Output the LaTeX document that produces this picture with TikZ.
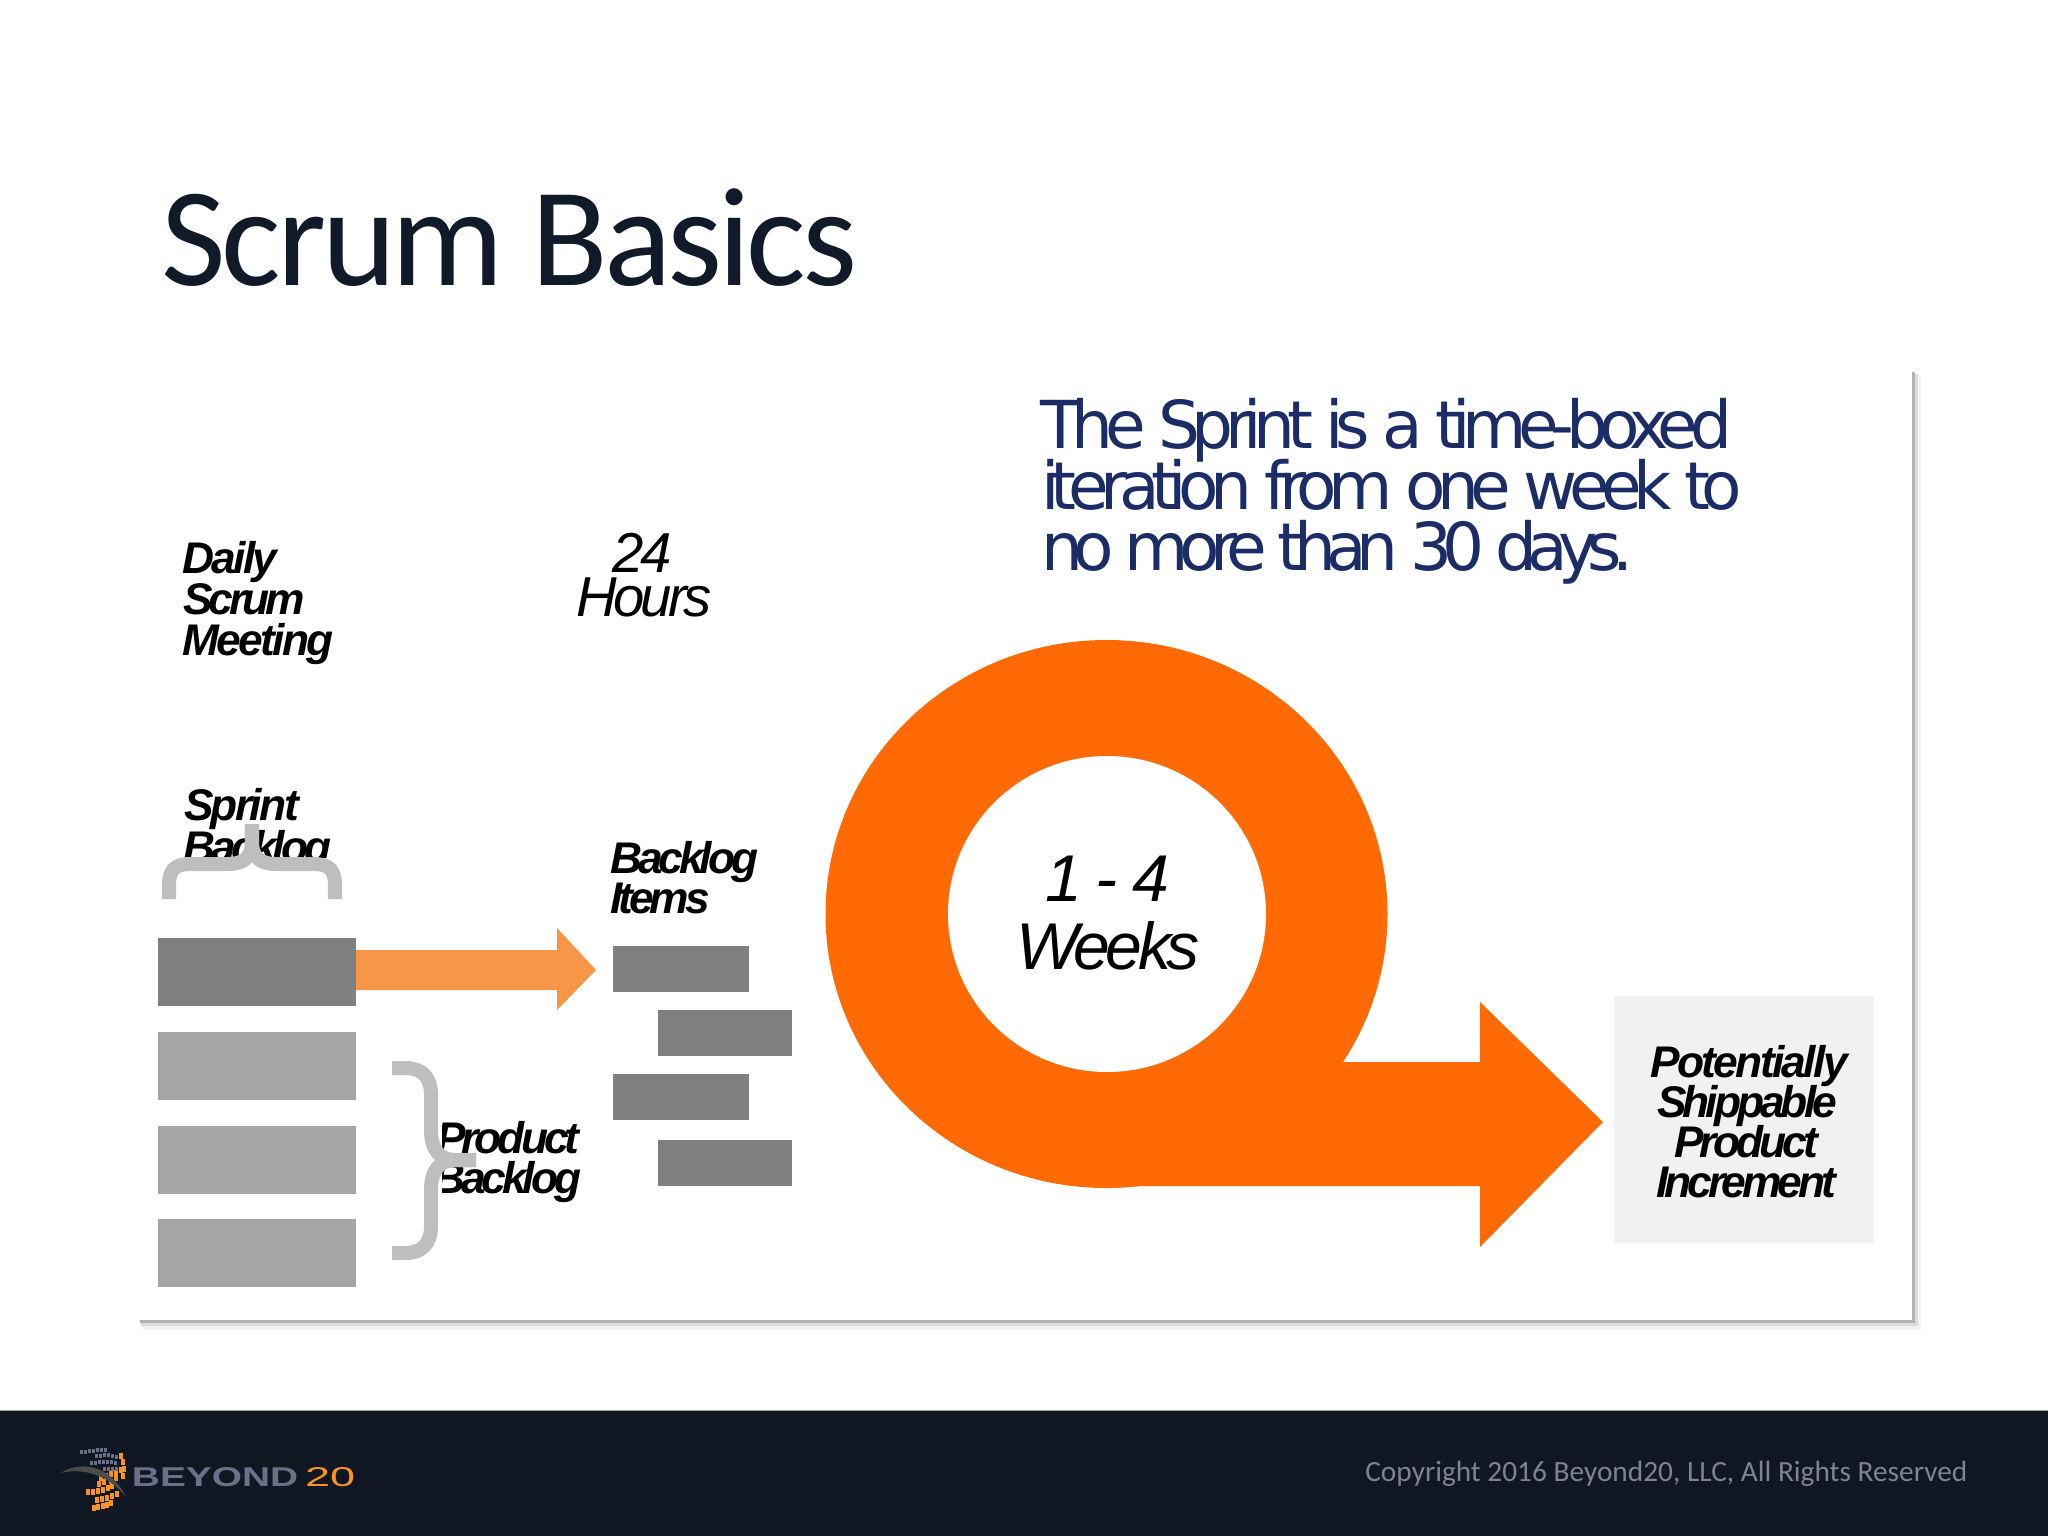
\documentclass[tikz,border=0pt]{standalone}
\usepackage{fontspec}
\usepackage{graphicx}
\setmainfont{Liberation Sans}
\newfontfamily\titlefont[LetterSpace=-2.9]{Carlito}
\newfontfamily\copyfont{Carlito}
\newfontfamily\blueface[LetterSpace=-12.9]{DejaVu Sans}
\newfontfamily\bluetight[LetterSpace=-14.8]{DejaVu Sans}
\newfontfamily\boldface[LetterSpace=-6,BoldFont={Liberation Sans Bold},ItalicFont={Liberation Sans Italic},BoldItalicFont={Liberation Sans Bold Italic}]{Liberation Sans}
\newfontfamily\tightface[LetterSpace=-9,BoldFont={Liberation Sans Bold},ItalicFont={Liberation Sans Italic},BoldItalicFont={Liberation Sans Bold Italic}]{Liberation Sans}
\newfontfamily\plainface[LetterSpace=-6.5,ItalicFont={Liberation Sans Italic}]{Liberation Sans}
\definecolor{footbg}{HTML}{101722}
\definecolor{titleink}{HTML}{111A28}
\definecolor{navy}{HTML}{1B2C66}
\definecolor{bigorange}{HTML}{FF6A05}
\definecolor{softorange}{HTML}{F79646}
\definecolor{darkbar}{HTML}{808080}
\definecolor{lightbar}{HTML}{A5A5A7}
\definecolor{bracegrey}{HTML}{BEBEC0}
\definecolor{boxgrey}{HTML}{F1F1F4}
\definecolor{copyink}{HTML}{7E838F}
\definecolor{logogrey}{HTML}{6B6F88}
\definecolor{logoorange}{HTML}{F7931E}
\tikzset{
  px/.style={x=0.01cm,y=-0.01cm},
  lbl/.style={inner sep=0pt,outer sep=0pt,anchor=base west},
  ctr/.style={inner sep=0pt,outer sep=0pt,anchor=base},
  boldlbl/.style={font=\boldface\bfseries\itshape\fontsize{12.6pt}{14pt}\selectfont,text=black},
  tightlbl/.style={font=\tightface\bfseries\itshape\fontsize{12.6pt}{14pt}\selectfont,text=black},
  thinlbl/.style={font=\plainface\itshape\fontsize{16pt}{18pt}\selectfont,text=black},
  weeklbl/.style={font=\plainface\itshape\fontsize{18.8pt}{20pt}\selectfont,text=black},
  bluelbl/.style={font=\blueface\fontsize{18.8pt}{20pt}\selectfont,text=navy},
  bluetightlbl/.style={font=\bluetight\fontsize{18.8pt}{20pt}\selectfont,text=navy},
  darkrect/.style={fill=darkbar,draw=none},
  lightrect/.style={fill=lightbar,draw=none},
  bracestroke/.style={draw=bracegrey,line width=1.4mm,line join=round,fill=none},
}
\begin{document}
\begin{tikzpicture}[px]
\useasboundingbox (0,0) rectangle (2048,1536);
\fill[white] (0,0) rectangle (2048,1536);
% panel with soft shadow
\fill[gray!10] (143,376) rectangle (1921,1330);
\fill[gray!28] (141,374) rectangle (1918,1326);
\fill[gray!60] (140,372) rectangle (1915,1323);
\fill[white] (120,360) rectangle (1912,1320);
% title
\node[lbl,font=\titlefont\fontsize{40pt}{44pt}\selectfont,text=titleink] (title) at (161,285) {Scrum Basics};
% blue text
\node[lbl,bluelbl] (blueA) at (1040,448) {The Sprint is a time-boxed};
\node[lbl,bluelbl] (blueB) at (1041,509) {iteration from one week to};
\node[lbl,bluetightlbl] (blueC) at (1041,570) {no more than 30 days.};
% daily
\node[lbl,boldlbl] (dailyA) at (182,573) {Daily};
\node[lbl,tightlbl] (dailyB) at (183,614) {Scrum};
\node[lbl,boldlbl] (dailyC) at (182,655) {Meeting};
% 24 hours
\node[ctr,thinlbl] (hrsA) at (642,572) {24};
\node[ctr,thinlbl] (hrsB) at (644,616) {Hours};
% sprint backlog
\node[lbl,boldlbl] (sprintA) at (184,820) {Sprint};
\begin{scope}
\clip (150,825) rectangle (345,857);
\node[lbl,tightlbl] (sprintB) at (183,862) {Backlog};
\end{scope}
% backlog items
\node[lbl,tightlbl] (itemsA) at (610,873) {Backlog};
\node[lbl,tightlbl] (itemsB) at (610,913) {Items};
% product backlog
\begin{scope}
\clip (442,1100) rectangle (600,1220);
\node[lbl,tightlbl] (prodA) at (436,1153) {Product};
\node[lbl,tightlbl] (prodB) at (433,1193) {Backlog};
\end{scope}
% bars
\fill[darkrect] (158,938) rectangle (356,1006);
\fill[lightrect] (158,1032) rectangle (356,1100);
\fill[lightrect] (158,1126) rectangle (356,1194);
\fill[lightrect] (158,1219) rectangle (356,1287);
% small arrow
\fill[softorange] (356,950) -- (557,950) -- (557,928) -- (596,970) -- (557,1010) -- (557,990) -- (356,990) -- cycle;
% backlog rects
\fill[darkrect] (613,946) rectangle (749,992);
\fill[darkrect] (658,1010) rectangle (792,1056);
\fill[darkrect] (613,1074) rectangle (749,1120);
\fill[darkrect] (658,1140) rectangle (792,1186);
% braces
\draw[bracestroke] (169,899) -- (169,885) .. controls (169,870) and (175,864) .. (190,864) -- (228,864) .. controls (245,864) and (252,856) .. (252,842) -- (252,824);
\draw[bracestroke] (335,899) -- (335,885) .. controls (335,870) and (329,864) .. (314,864) -- (276,864) .. controls (259,864) and (252,856) .. (252,842) -- (252,824);
\draw[bracestroke] (392,1068) -- (405,1068) .. controls (423,1068) and (431,1078) .. (431,1095) -- (431,1130) .. controls (431,1150) and (440,1160) .. (455,1160) -- (476,1160);
\draw[bracestroke] (392,1253) -- (405,1253) .. controls (423,1253) and (431,1243) .. (431,1226) -- (431,1190) .. controls (431,1170) and (440,1160) .. (455,1160) -- (476,1160);
% big loop arrow
\fill[bigorange] (1106.5,914) ellipse [x radius=281,y radius=274];
\fill[bigorange] (1106,1062) -- (1480,1062) -- (1480,1002) -- (1603,1122) -- (1480,1247) -- (1480,1186) -- (1106,1186) -- cycle;
\fill[white] (1107,914) ellipse [x radius=159,y radius=158];
\node[ctr,weeklbl] (weekA) at (1107,901) {1 - 4};
\node[ctr,weeklbl] (weekB) at (1108,969) {Weeks};
% increment box
\fill[boxgrey] (1614,996) rectangle (1874,1243);
\node[ctr,boldlbl] (incA) at (1749,1077) {Potentially};
\node[ctr,tightlbl] (incB) at (1747,1117) {Shippable};
\node[ctr,tightlbl] (incC) at (1746,1157) {Product};
\node[ctr,tightlbl] (incD) at (1746,1197) {Increment};
% footer
\fill[footbg] (0,1410) rectangle (2048,1536);
\draw[gray!70,line width=0.1mm] (0,1410) -- (2048,1410);
\node[anchor=base east,inner sep=0pt,font=\copyfont\fontsize{8.35pt}{10pt}\selectfont,text=copyink] (copy) at (1968,1481) {Copyright 2016 Beyond20, LLC, All Rights Reserved};
% logo
\node[lbl,text=logogrey] (beyond) at (132,1486) {\resizebox{1.66cm}{0.19cm}{\bfseries BEYOND}};
\node[lbl,text=logoorange] (twenty) at (305,1486) {\resizebox{0.50cm}{0.19cm}{20}};
\foreach \xx/\yy in {86/1489,91/1489,96/1488,101/1487,106/1485,110/1483,
                     95/1497,100/1496,105/1495,110/1493,115/1491,
                     92/1505,96/1504,101/1503,105/1502,109/1500,
                     97/1481,102/1479,99/1475,104/1473,
                     109/1478,114/1475,109/1471,114/1470,119/1467,
                     121/1473,122/1466,121/1459,119/1453}
  \fill[logoorange] (\xx,\yy) rectangle ++(4.2,5.8);
\foreach \xx/\yy in {80/1450,84/1450,88/1449,92/1449,96/1448,100/1448,104/1448,
                     95/1454,99/1454,103/1453,107/1453,111/1454,115/1455,
                     90/1461,94/1461,98/1460,102/1460,106/1460,110/1460,114/1461,
                     103/1467,107/1467,111/1467,115/1467}
  \fill[logogrey] (\xx,\yy) rectangle ++(3,4);
\fill[gray!60!black] (61,1473) .. controls (75,1463) and (108,1460) .. (126,1497) .. controls (106,1472) and (78,1468) .. (61,1473) -- cycle;
\end{tikzpicture}
\end{document}
